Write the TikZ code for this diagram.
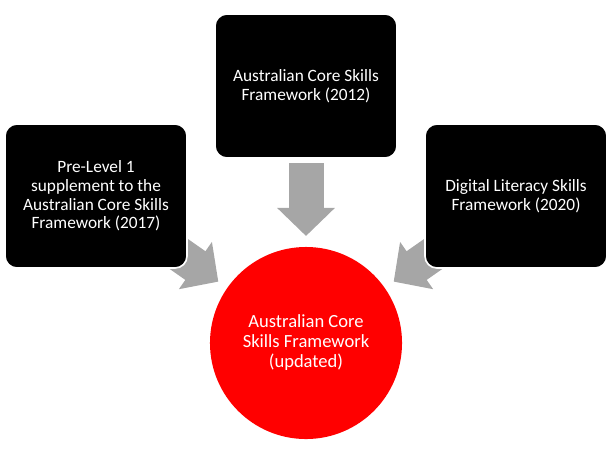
\documentclass[tikz,border=0pt]{standalone}
\usepackage{fontspec}
\setmainfont{Carlito}
\usepackage{xcolor}
\usetikzlibrary{arrows.meta,backgrounds}
\definecolor{feedgray}{HTML}{A6A6A6}
\definecolor{hubred}{HTML}{FF0000}

\begin{document}
\begin{tikzpicture}[x=0.025cm,y=-0.025cm,
  fwbox/.style={rectangle,rounded corners=0.3cm,fill=black,draw=white,line width=1.2pt,
    minimum width=4.55cm,minimum height=3.6cm,text=white,align=center,
    font=\fontsize{12.3}{13.3}\selectfont},
  hub/.style={circle,fill=hubred,minimum size=4.8cm,text=white,align=center,
    font=\fontsize{13.2}{14.2}\selectfont},
  feed/.style={feedgray,line width=0.875cm,shorten <=1.925cm,shorten >=2.675cm,
    -{Triangle[length=0.7cm,width=1.4cm]}}]
  \useasboundingbox (0,0) rectangle (615,456);
  % source frameworks
  \node[fwbox] (acsf) at (306,86) {Australian Core Skills\\Framework (2012)};
  \node[fwbox] (prelevel) at (96,196) {Pre-Level 1\\supplement to the\\Australian Core Skills\\Framework (2017)};
  \node[fwbox] (dlsf) at (516,196) {Digital Literacy Skills\\Framework (2020)};
  % updated framework
  \node[hub] (acsfnew) at (306,343) {Australian Core\\Skills Framework\\(updated)};
  % block arrows behind the boxes
  \begin{scope}[on background layer]
    \draw[feed] (acsf.center) -- (acsfnew.center);
    \draw[feed] (prelevel.center) -- (acsfnew.center);
    \draw[feed] (dlsf.center) -- (acsfnew.center);
  \end{scope}
\end{tikzpicture}
\end{document}
